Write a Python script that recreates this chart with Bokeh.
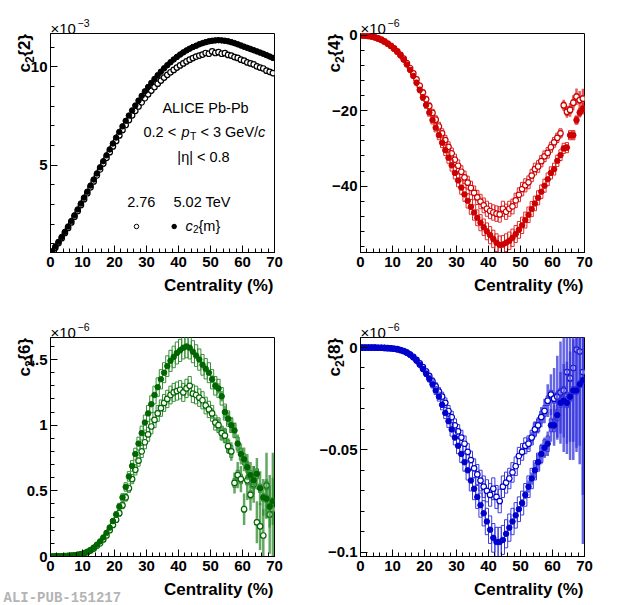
import numpy as np
from bokeh.plotting import figure
from bokeh.models import Label, FixedTicker, Range1d, ColumnDataSource, GridBox, Column
from bokeh.embed import file_html
from bokeh.resources import INLINE

# ---------------- data ----------------
cent = [0.5, 1.5, 2.5, 3.5, 4.5, 5.5, 6.5, 7.5, 8.5, 9.5,
        10.5, 11.5, 12.5, 13.5, 14.5, 15.5, 16.5, 17.5, 18.5, 19.5,
        20.5, 21.5, 22.5, 23.5, 24.5, 25.5, 26.5, 27.5, 28.5, 29.5,
        30.5, 31.5, 32.5, 33.5, 34.5, 35.5, 36.5, 37.5, 38.5, 39.5,
        40.5, 41.5, 42.5, 43.5, 44.5, 45.5, 46.5, 47.5, 48.5, 49.5,
        50.5, 51.5, 52.5, 53.5, 54.5, 55.5, 56.5, 57.5, 58.5, 59.5,
        60.5, 61.5, 62.5, 63.5, 64.5, 65.5, 66.5, 67.5, 68.5, 69.5]

# c2{2} (x1e-3)
c22_502 = [0.62, 0.86, 1.10, 1.35, 1.61, 1.88, 2.16, 2.45, 2.75, 3.05,
           3.35, 3.65, 3.96, 4.27, 4.58, 4.89, 5.20, 5.50, 5.80, 6.10,
           6.40, 6.69, 6.97, 7.25, 7.52, 7.78, 8.03, 8.28, 8.52, 8.75,
           8.97, 9.18, 9.38, 9.57, 9.75, 9.92, 10.08, 10.23, 10.37, 10.50,
           10.62, 10.73, 10.83, 10.92, 11.00, 11.07, 11.14, 11.20, 11.25, 11.29,
           11.32, 11.34, 11.35, 11.34, 11.32, 11.29, 11.25, 11.20, 11.14, 11.08,
           11.02, 10.96, 10.90, 10.84, 10.78, 10.72, 10.66, 10.59, 10.52, 10.45]
c22_276 = [0.56, 0.80, 1.04, 1.29, 1.55, 1.81, 2.09, 2.38, 2.67, 2.97,
           3.27, 3.57, 3.87, 4.17, 4.48, 4.78, 5.08, 5.37, 5.66, 5.95,
           6.23, 6.51, 6.78, 7.04, 7.29, 7.53, 7.76, 7.98, 8.19, 8.40,
           8.60, 8.79, 8.97, 9.14, 9.30, 9.45, 9.59, 9.72, 9.84, 9.96,
           10.07, 10.17, 10.27, 10.36, 10.44, 10.51, 10.57, 10.62, 10.70, 10.66,
           10.78, 10.70, 10.74, 10.66, 10.69, 10.60, 10.57, 10.49, 10.45, 10.36,
           10.31, 10.22, 10.17, 10.12, 10.02, 9.96, 9.91, 9.80, 9.74, 9.68]

# c2{4} (x1e-6)
c24_502 = [-0.05, -0.1, -0.2, -0.35, -0.6, -0.9, -1.3, -1.75, -2.3, -2.9,
           -3.6, -4.4, -5.4, -6.5, -7.8, -9.2, -10.8, -12.6, -14.5, -16.5,
           -18.5, -20.5, -22.5, -24.5, -26.5, -28.5, -30.5, -32.5, -34.5, -36.5,
           -38.5, -40.4, -42.2, -43.9, -45.5, -47.0, -48.4, -49.7, -50.9, -52.0,
           -53.0, -54.0, -55.0, -55.6, -55.5, -55.0, -54.5, -53.7, -52.7, -51.6,
           -50.4, -49.0, -47.6, -46.1, -44.6, -43.1, -41.5, -39.9, -38.2, -36.5,
           -35.5, -33.3, -31.8, -30.0, -29.8, -26.5, -26.5, -22.5, -20.5, -19.5]
c24_276 = [-0.05, -0.1, -0.2, -0.35, -0.55, -0.85, -1.2, -1.65, -2.2, -2.8,
           -3.5, -4.3, -5.2, -6.2, -7.4, -8.7, -10.1, -11.7, -13.4, -15.2,
           -17.0, -18.8, -20.6, -22.4, -24.2, -26.0, -27.8, -29.6, -31.3, -33.0,
           -34.6, -36.2, -37.7, -39.1, -40.5, -41.8, -43.0, -44.1, -45.1, -46.0,
           -46.6, -47.0, -47.3, -47.5, -46.0, -46.8, -46.0, -45.4, -43.8, -42.3,
           -40.8, -39.8, -39.0, -37.2, -35.5, -34.8, -33.4, -32.1, -31.2, -29.7,
           -28.4, -27.2, -26.0, -18.6, -20.3, -19.8, -17.9, -16.3, -17.2, -16.8]

# c2{6} (x1e-6)
c26_502 = [0.000, 0.001, 0.001, 0.002, 0.003, 0.004, 0.006, 0.009, 0.013, 0.018,
           0.026, 0.036, 0.050, 0.068, 0.090, 0.115, 0.145, 0.180, 0.220, 0.270,
           0.320, 0.380, 0.450, 0.530, 0.610, 0.690, 0.780, 0.860, 0.940, 1.020,
           1.090, 1.160, 1.230, 1.290, 1.350, 1.400, 1.450, 1.490, 1.520, 1.550,
           1.570, 1.590, 1.600, 1.590, 1.560, 1.530, 1.500, 1.460, 1.430, 1.400,
           1.350, 1.300, 1.280, 1.220, 1.100, 1.050, 1.000, 0.960, 0.860, 0.780,
           0.740, 0.680, 0.620, 0.580, 0.630, 0.520, 0.450, 0.440, 0.380, 0.420]
c26_276 = [0.000, 0.001, 0.001, 0.002, 0.003, 0.004, 0.006, 0.008, 0.012, 0.017,
           0.024, 0.033, 0.045, 0.060, 0.080, 0.100, 0.130, 0.160, 0.200, 0.240,
           0.280, 0.330, 0.390, 0.450, 0.520, 0.590, 0.660, 0.730, 0.800, 0.870,
           0.930, 0.990, 1.040, 1.090, 1.130, 1.170, 1.200, 1.230, 1.250, 1.260,
           1.270, 1.250, 1.280, 1.300, 1.240, 1.230, 1.210, 1.190, 1.150, 1.120,
           1.090, 1.020, 1.000, 0.940, 0.920, 0.840, 0.800, 0.560, 0.620, 0.590,
           0.360, 0.580, 0.470, 0.550, 0.260, 0.230, 0.160, 0.540, 0.320, 0.360]

# c2{8} (x1e-6)
c28_502 = [0.0, 0.0, 0.0, 0.0, 0.0, -0.0001, -0.0001, -0.0002, -0.0003, -0.0004,
           -0.0006, -0.0009, -0.0013, -0.0018, -0.0026, -0.0036, -0.0049, -0.0065, -0.0084, -0.0105,
           -0.0128, -0.0153, -0.018, -0.021, -0.024, -0.028, -0.032, -0.036, -0.040, -0.044,
           -0.048, -0.052, -0.056, -0.060, -0.065, -0.069, -0.073, -0.077, -0.081, -0.085,
           -0.089, -0.093, -0.095, -0.095, -0.094, -0.091, -0.088, -0.085, -0.082, -0.079,
           -0.076, -0.072, -0.068, -0.064, -0.060, -0.056, -0.052, -0.049, -0.047, -0.038,
           -0.038, -0.033, -0.027, -0.026, -0.027, -0.024, -0.021, -0.021, -0.018, -0.016]
c28_276 = [0.0, 0.0, 0.0, 0.0, 0.0, -0.0001, -0.0001, -0.0002, -0.0003, -0.0004,
           -0.0006, -0.0008, -0.0012, -0.0017, -0.0024, -0.0033, -0.0045, -0.006, -0.0077, -0.0096,
           -0.0117, -0.014, -0.0165, -0.019, -0.0215, -0.024, -0.027, -0.031, -0.034, -0.038,
           -0.041, -0.044, -0.047, -0.051, -0.055, -0.059, -0.062, -0.065, -0.068, -0.070,
           -0.072, -0.069, -0.073, -0.075, -0.068, -0.066, -0.064, -0.061, -0.058, -0.053,
           -0.051, -0.048, -0.047, -0.044, -0.040, -0.038, -0.034, -0.031, -0.026, -0.023,
           -0.025, -0.024, -0.022, -0.021, -0.012, -0.015, -0.010, -0.001, -0.002, -0.012]

# statistical uncertainties (visible only in peripheral bins)
c22_502_stat = [0.0] * 70
c22_276_stat = [0.0] * 70
c24_502_stat = [0.0] * 55 + [0.3, 0.3, 0.4, 0.4, 0.5, 0.5, 0.6, 0.7, 0.8, 0.9, 1.0, 1.1, 1.2, 1.3, 1.5]
c24_276_stat = [0.0] * 55 + [0.5, 0.5, 0.6, 0.6, 0.7, 0.8, 0.9, 1.0, 1.5, 1.6, 1.8, 2.0, 2.2, 2.4, 2.6]
c26_502_stat = [0.0] * 50 + [0.03, 0.03, 0.04, 0.04, 0.05, 0.05, 0.06, 0.06, 0.07, 0.08,
                             0.09, 0.10, 0.10, 0.11, 0.12, 0.13, 0.14, 0.15, 0.16, 0.18]
c26_276_stat = [0.0] * 48 + [0.03, 0.03, 0.04, 0.04, 0.05, 0.05, 0.06, 0.06, 0.07, 0.08, 0.10,
                             0.10, 0.12, 0.15, 0.12, 0.14, 0.16, 0.18, 0.20, 0.25, 0.30, 0.43]
c28_502_stat = [0.0] * 50 + [0.002, 0.002, 0.003, 0.003, 0.004, 0.004, 0.005, 0.005, 0.006, 0.008,
                             0.010, 0.012, 0.015, 0.018, 0.020, 0.022, 0.025, 0.028, 0.030, 0.080]
c28_276_stat = [0.0] * 50 + [0.002, 0.002, 0.003, 0.003, 0.004, 0.004, 0.005, 0.006, 0.008, 0.010,
                             0.015, 0.020, 0.025, 0.030, 0.040, 0.040, 0.045, 0.050, 0.055, 0.060]

# relative systematic uncertainties and absolute floors
sys_rel = {"c22": 0.008, "c24": 0.04, "c26": 0.05, "c28": 0.07}
sys_floor = {"c22": 0.02, "c24": 0.15, "c26": 0.006, "c28": 0.0005}

xticks = [0, 10, 20, 30, 40, 50, 60, 70]
xminor = [0, 2, 4, 6, 8, 10, 12, 14, 16, 18, 20, 22, 24, 26, 28, 30, 32, 34, 36, 38,
          40, 42, 44, 46, 48, 50, 52, 54, 56, 58, 60, 62, 64, 66, 68, 70]

FONT = "Liberation Sans"
SH = 5  # correction: rendered alphabetic baseline sits ~5 px low


def lab(p, x, y, text, dx=0, dy=0, size="14.5px", style="normal", align="left",
        baseline="alphabetic", angle=0, color="black", font=FONT):
    p.add_layout(Label(x=x, y=y, x_offset=dx, y_offset=dy, text=text, text_font=font,
                       text_font_size=size, text_font_style=style, text_align=align,
                       text_baseline=baseline, angle=angle, text_color=color))


def make_panel(yr, yticks, ylabels, yminor, h, top, bottom):
    p = figure(width=310, height=h, x_range=Range1d(0, 70), y_range=Range1d(*yr),
               output_backend="svg", toolbar_location=None,
               min_border_left=50, min_border_right=36, min_border_top=top,
               min_border_bottom=bottom)
    p.background_fill_color = "white"
    p.border_fill_color = "white"
    p.xgrid.visible = False
    p.ygrid.visible = False
    p.outline_line_color = "black"
    p.outline_line_alpha = 1.0
    p.outline_line_width = 1
    p.xaxis.ticker = FixedTicker(ticks=xticks, minor_ticks=xminor)
    p.yaxis.ticker = FixedTicker(ticks=yticks, minor_ticks=yminor)
    p.yaxis.major_label_overrides = {t: s for t, s in zip(yticks, ylabels)}
    for ax in (p.xaxis[0], p.yaxis[0]):
        ax.axis_line_color = "black"
        ax.major_tick_in = 7
        ax.major_tick_out = 0
        ax.minor_tick_in = 4
        ax.minor_tick_out = 0
        ax.major_tick_line_color = "black"
        ax.minor_tick_line_color = "black"
        ax.major_label_text_font = FONT
        ax.major_label_text_font_style = "bold"
        ax.major_label_text_font_size = "15px"
        ax.major_label_text_color = "black"
    p.xaxis.major_label_standoff = 4
    p.yaxis.major_label_standoff = 3
    return p


def draw(p, y, stat, key, mcolor, bcolor, open_marker):
    y = np.array(y, dtype=float)
    x = np.array(cent, dtype=float)
    s = sys_rel[key] * np.abs(y) + sys_floor[key]
    src = ColumnDataSource(dict(l=x - 0.5, r=x + 0.5, b=y - s, t=y + s))
    p.quad(left="l", right="r", bottom="b", top="t", source=src, fill_color=None,
           line_color=bcolor, line_alpha=0.95, line_width=1)
    st = np.array(stat, dtype=float)
    m = st > 0
    if m.any():
        p.segment(x0=x[m], y0=(y - st)[m], x1=x[m], y1=(y + st)[m], line_color=bcolor,
                  line_width=2.5, line_alpha=0.75)
    if open_marker:
        p.scatter(x=x, y=y, marker="circle", size=5.5, fill_color="white",
                  line_color=mcolor, line_width=1.2)
    else:
        p.scatter(x=x, y=y, marker="circle", size=5.5, fill_color=mcolor,
                  line_color=mcolor, line_width=1)


# panel 1: c2{2}
Y1 = (0.56, 11.69)
p1 = make_panel(Y1, [5, 10], ["5", "10"], [1, 2, 3, 4, 6, 7, 8, 9, 11], 300, 33, 48)
draw(p1, c22_276, c22_276_stat, "c22", "black", "black", True)
draw(p1, c22_502, c22_502_stat, "c22", "black", "black", False)
lab(p1, 0, Y1[1], "ALICE Pb-Pb", dx=155, dy=-79.7 + SH, align="center")
lab(p1, 0, Y1[1], "0.2 <", dx=93, dy=-103.5 + SH)
lab(p1, 0, Y1[1], "p", dx=131, dy=-103.5 + SH, style="italic")
lab(p1, 0, Y1[1], "T", dx=139.5, dy=-107 + SH, size="10.5px")
lab(p1, 0, Y1[1], "< 3 GeV/", dx=150, dy=-103.5 + SH)
lab(p1, 0, Y1[1], "c", dx=207.5, dy=-103.5 + SH, style="italic")
lab(p1, 0, Y1[1], "|\u03b7| < 0.8", dx=153, dy=-128.7 + SH, align="center")
lab(p1, 0, Y1[1], "2.76", dx=76.7, dy=-173.7 + SH)
lab(p1, 0, Y1[1], "5.02 TeV", dx=123, dy=-173.7 + SH)
lab(p1, 0, Y1[1], "c", dx=135, dy=-197 + SH, style="italic")
lab(p1, 0, Y1[1], "2", dx=142.5, dy=-200.5 + SH, size="10px")
lab(p1, 0, Y1[1], "{m}", dx=148, dy=-197 + SH)
leg_x_open = (136 - 50) / 224 * 70
leg_x_fill = (173.7 - 50) / 224 * 70
leg_y = Y1[0] + (252 - 226) / 219 * (Y1[1] - Y1[0])
p1.scatter(x=[leg_x_open], y=[leg_y], marker="circle", size=4.5, fill_color="white",
           line_color="black", line_width=1)
p1.scatter(x=[leg_x_fill], y=[leg_y], marker="circle", size=4.5, fill_color="black",
           line_color="black")

# panel 2: c2{4}
p2 = make_panel((-57.6, 0.45), [0, -20, -40], ["0", "\u221220", "\u221240"],
                [-4, -8, -12, -16, -24, -28, -32, -36, -44, -48, -52, -56], 300, 33, 48)
draw(p2, c24_276, c24_276_stat, "c24", "#cc0000", "#dd2222", True)
draw(p2, c24_502, c24_502_stat, "c24", "#cc0000", "#dd2222", False)

# panel 3: c2{6}
p3 = make_panel((0.0, 1.668), [0, 0.5, 1, 1.5], ["0", "0.5", "1", "1.5"],
                [0.1, 0.2, 0.3, 0.4, 0.6, 0.7, 0.8, 0.9, 1.1, 1.2, 1.3, 1.4, 1.6], 305, 37, 49)
draw(p3, c26_276, c26_276_stat, "c26", "#006600", "#2e8b2e", True)
draw(p3, c26_502, c26_502_stat, "c26", "#006600", "#2e8b2e", False)

# panel 4: c2{8}
p4 = make_panel((-0.1021, 0.0049), [0, -0.05, -0.1], ["0", "\u22120.05", "\u22120.1"],
                [-0.01, -0.02, -0.03, -0.04, -0.06, -0.07, -0.08, -0.09], 305, 37, 49)
draw(p4, c28_276, c28_276_stat, "c28", "#0000cc", "#3333dd", True)
draw(p4, c28_502, c28_502_stat, "c28", "#0000cc", "#3333dd", False)

# ---------- transparent overlay for texts outside the frames (page pixel coords) ----------
ov = figure(width=620, height=605, x_range=Range1d(0, 620), y_range=Range1d(605, 0),
            output_backend="svg", toolbar_location=None, x_axis_type=None, y_axis_type=None,
            min_border=0, min_border_left=0, min_border_right=0, min_border_top=0,
            min_border_bottom=0)
ov.xgrid.visible = False
ov.ygrid.visible = False
ov.outline_line_color = None
ov.background_fill_alpha = 0
ov.border_fill_alpha = 0

frames = [(50, 33, 274, 252, "2", "\u22123"),
          (360, 33, 584, 252, "4", "\u22126"),
          (50, 337, 274, 556, "6", "\u22126"),
          (360, 337, 584, 556, "8", "\u22126")]
for fl, ft, fr, fb, num, ex in frames:
    # y title c_2{n} (rotated; baseline correction acts along x)
    lab(ov, fl - 21 - SH, ft + 39, "c", size="17px", style="bold", angle=np.pi / 2)
    lab(ov, fl - 16.5 - SH, ft + 29.5, "2", size="12px", style="bold", angle=np.pi / 2)
    lab(ov, fl - 21 - SH, ft + 23, "{" + num + "}", size="17px", style="bold", angle=np.pi / 2)
    # exponent
    lab(ov, fl, ft - 0.5 - SH, "\u00d710", size="15px")
    lab(ov, fl + 27, ft - 6 - SH, ex, size="10.5px")
    # x title
    lab(ov, fr - 1, fb + 38 - SH, "Centrality (%)", size="17px", style="bold", align="right")

lab(ov, 3, 602 - SH, "ALI-PUB-151217", size="14px", style="bold", color="#b4b4b4",
    font="Liberation Mono")

inner = GridBox(children=[(p1, 0, 0), (p2, 0, 1), (p3, 1, 0), (p4, 1, 1)], spacing=0)
ov_box = Column(children=[ov], spacing=0)
layout = GridBox(children=[(inner, 0, 0), (ov_box, 0, 0)], spacing=0)
open("out.html", "w").write(file_html(layout, INLINE))
